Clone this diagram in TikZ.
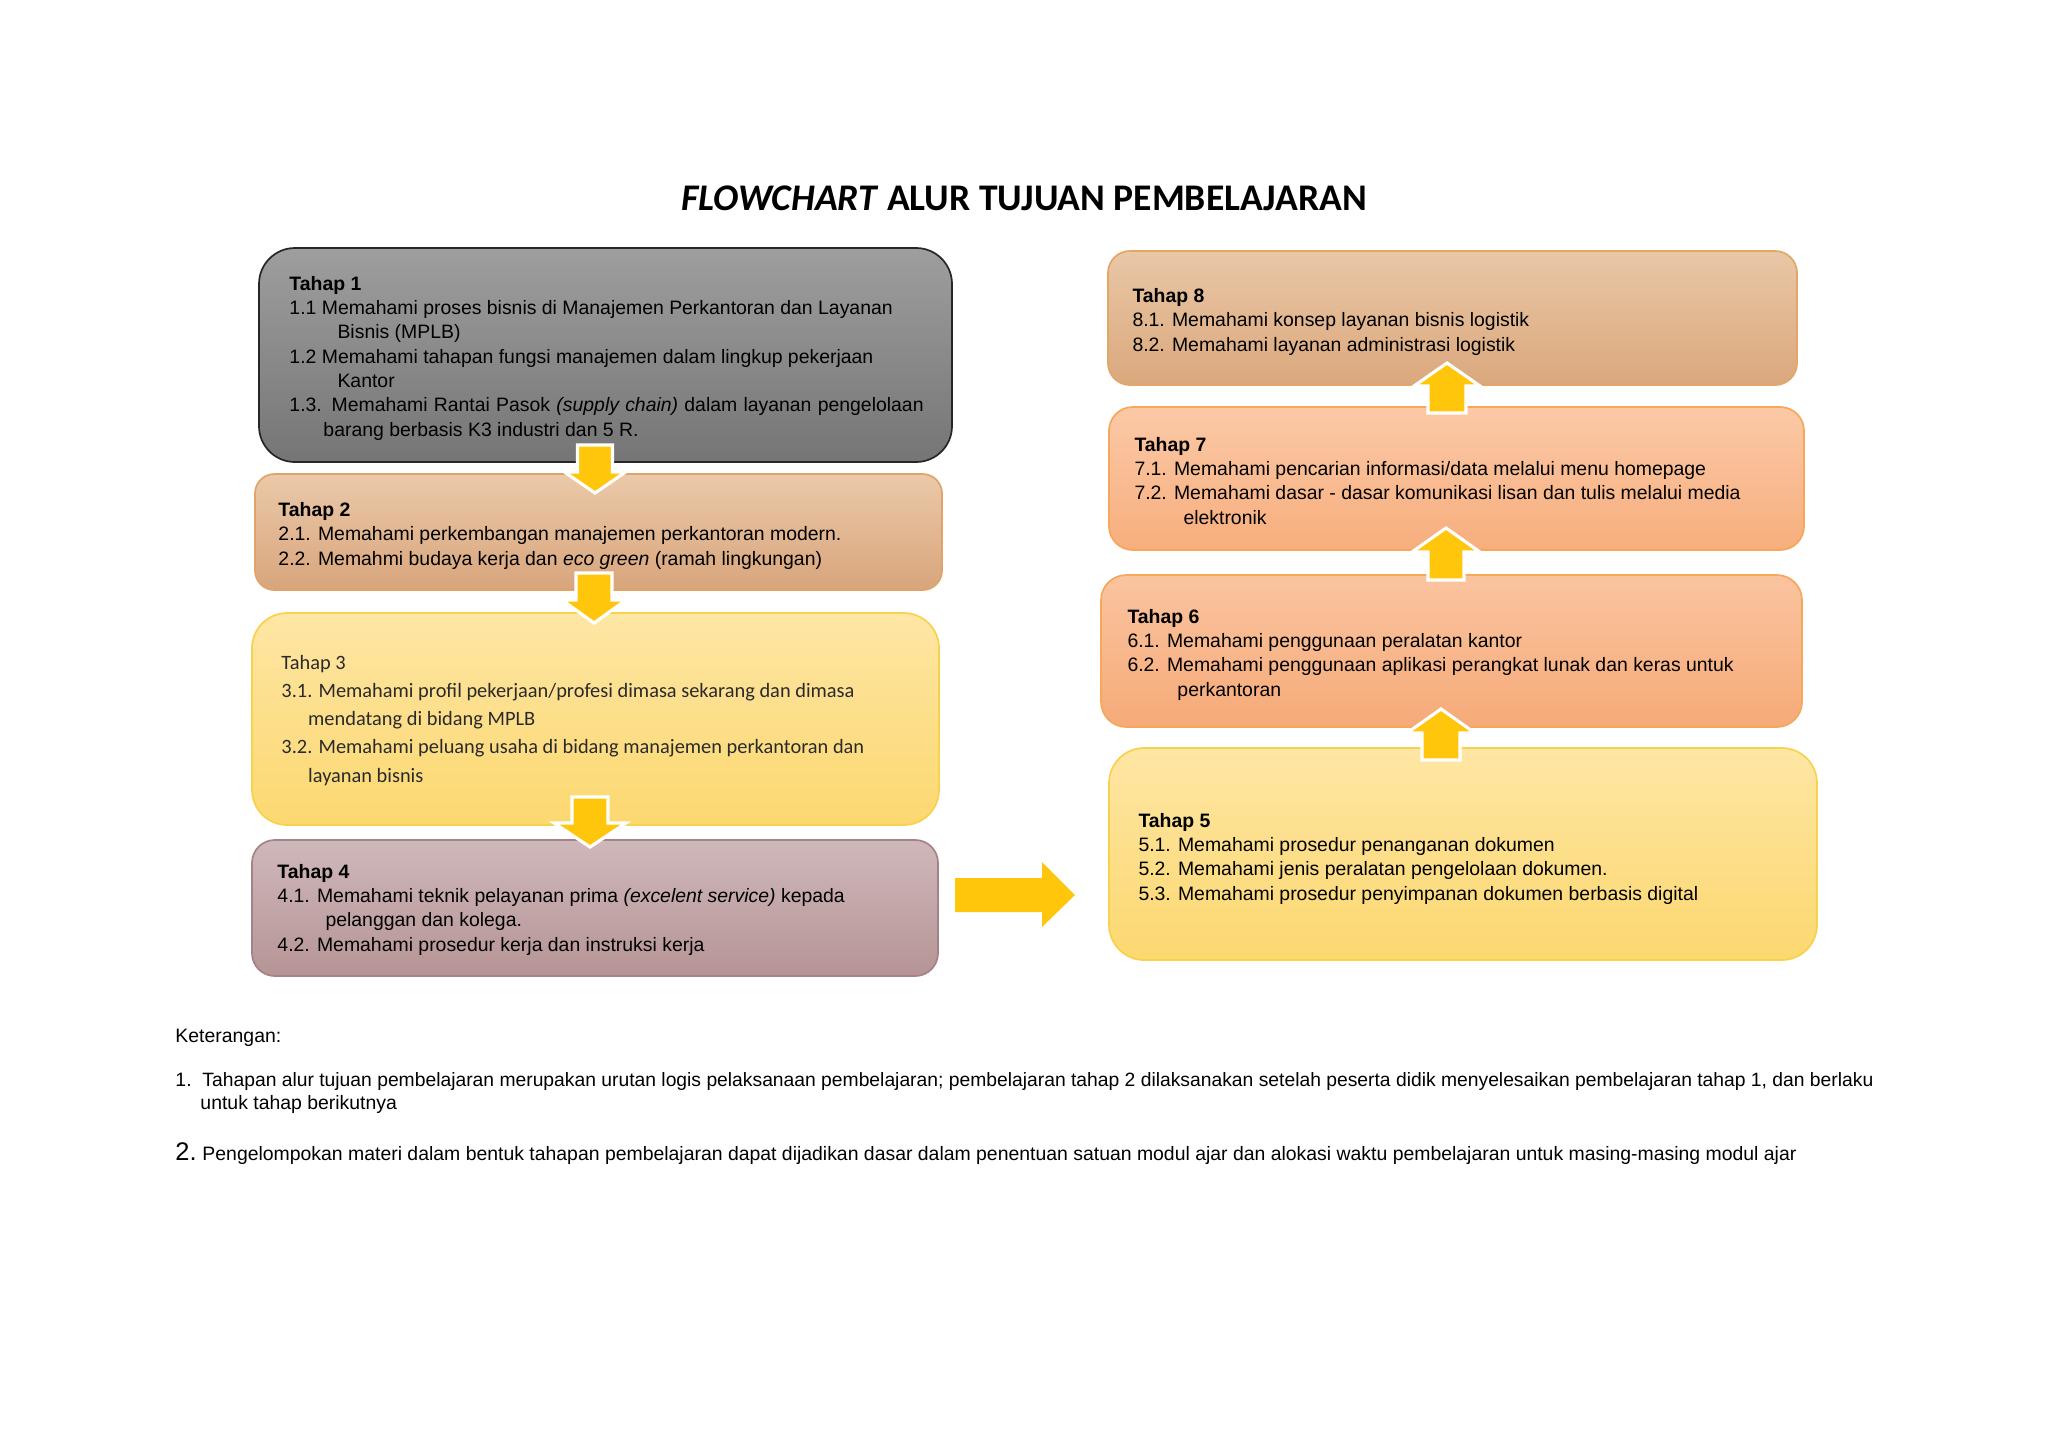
\documentclass[tikz,border=0pt]{standalone}
\usepackage{fontspec}
\setmainfont{Liberation Sans}
\newfontfamily\calib{Carlito}
\usetikzlibrary{fit}
\definecolor{gold}{HTML}{FFC60B}
\definecolor{txtgray}{HTML}{2A2A2A}
\tikzset{
  box/.style={inner sep=0pt, line width=0.7pt},
  txt/.style={anchor=base west, align=left, inner sep=0pt, font=\fontsize{8}{10}\selectfont},
  blk/.style={fill=gold, draw=white, line width=1.3pt, line join=miter},
  note/.style={anchor=base west, inner sep=0pt, font=\fontsize{8}{10}\selectfont},
}
\newcommand\blockarrow[6]{% cx, start, headbase, tip, body half, head half
  \filldraw[blk] (#1-#5,#2) -- (#1+#5,#2) -- (#1+#5,#3) -- (#1+#6,#3) -- (#1,#4) -- (#1-#6,#3) -- (#1-#5,#3) -- cycle;}
\begin{document}
\begin{tikzpicture}[x=0.41205pt,y=-0.41205pt]
\useasboundingbox[fill=white] (0,0) rectangle (2048,1448);

% title
\node[anchor=base, inner sep=0pt, font=\calib\bfseries\fontsize{15.5}{18}\selectfont] (title) at (1024,210) {\textit{FLOWCHART} ALUR TUJUAN PEMBELAJARAN};

% boxes left column
\node[box, fit={(259,248) (952,462)}, rounded corners=14.8pt, top color=black!38, bottom color=black!54, draw=black!85] (t1) {};
\node[box, fit={(255,474) (942,590)}, rounded corners=8pt, top color={rgb,255:red,235;green,201;blue,169}, bottom color={rgb,255:red,216;green,165;blue,124}, draw={rgb,255:red,224;green,164;blue,106}] (t2) {};
\node[box, fit={(252,613) (939,825)}, rounded corners=14.5pt, top color={rgb,255:red,254;green,230;blue,164}, bottom color={rgb,255:red,252;green,216;blue,112}, draw={rgb,255:red,248;green,210;blue,76}] (t3) {};
\node[box, fit={(252,840) (938,976)}, rounded corners=9.4pt, top color={rgb,255:red,207;green,184;blue,186}, bottom color={rgb,255:red,182;green,148;blue,149}, draw={rgb,255:red,164;green,130;blue,135}] (t4) {};

% boxes right column
\node[box, fit={(1108,251) (1797,385)}, rounded corners=9pt, top color={rgb,255:red,233;green,199;blue,166}, bottom color={rgb,255:red,219;green,168;blue,125}, draw={rgb,255:red,227;green,166;blue,104}] (t8) {};
\node[box, fit={(1109,407) (1804,550)}, rounded corners=9.8pt, top color={rgb,255:red,251;green,201;blue,167}, bottom color={rgb,255:red,247;green,174;blue,125}, draw={rgb,255:red,246;green,167;blue,90}] (t7) {};
\node[box, fit={(1101,575) (1802,727)}, rounded corners=10.4pt, top color={rgb,255:red,250;green,196;blue,160}, bottom color={rgb,255:red,246;green,170;blue,120}, draw={rgb,255:red,246;green,167;blue,90}] (t6) {};
\node[box, fit={(1109,748) (1817,960)}, rounded corners=14.5pt, top color={rgb,255:red,254;green,230;blue,164}, bottom color={rgb,255:red,252;green,216;blue,112}, draw={rgb,255:red,248;green,210;blue,76}] (t5) {};

% texts (anchor = baseline of the last line)
\node[txt] (t1txt) at (289,436) {\textbf{Tahap 1}\\
1.1 Memahami proses bisnis di Manajemen Perkantoran dan Layanan\\
\hspace*{19.8pt}Bisnis (MPLB)\\
1.2 Memahami tahapan fungsi manajemen dalam lingkup pekerjaan\\
\hspace*{19.8pt}Kantor\\
\makebox[261.3pt][s]{1.3. Memahami Rantai Pasok \textit{(supply chain)} dalam layanan pengelolaan}\\
\hspace*{14pt}barang berbasis K3 industri dan 5 R.};

\node[txt] (t2txt) at (278,565) {\textbf{Tahap 2}\\
2.1. Memahami perkembangan manajemen perkantoran modern.\\
2.2. Memahmi budaya kerja dan \textit{eco green} (ramah lingkungan)};

\node[txt, text=txtgray, font=\calib\fontsize{8.4}{11.6}\selectfont] (t3txt) at (281,782) {Tahap 3\\
3.1. Memahami profil pekerjaan/profesi dimasa sekarang dan dimasa\\
\hspace*{11pt}mendatang di bidang MPLB\\
3.2. Memahami peluang usaha di bidang manajemen perkantoran dan\\
\hspace*{11pt}layanan bisnis};

\node[txt] (t4txt) at (277,951) {\textbf{Tahap 4}\\
4.1. Memahami teknik pelayanan prima \textit{(excelent service)} kepada\\
\hspace*{19.8pt}pelanggan dan kolega.\\
4.2. Memahami prosedur kerja dan instruksi kerja};

\node[txt] (t8txt) at (1132,351) {\textbf{Tahap 8}\\
8.1. Memahami konsep layanan bisnis logistik\\
8.2. Memahami layanan administrasi logistik};

\node[txt] (t7txt) at (1134,524) {\textbf{Tahap 7}\\
7.1. Memahami pencarian informasi/data melalui menu homepage\\
7.2. Memahami dasar - dasar komunikasi lisan dan tulis melalui media\\
\hspace*{20.2pt}elektronik};

\node[txt] (t6txt) at (1127,696) {\textbf{Tahap 6}\\
6.1. Memahami penggunaan peralatan kantor\\
6.2. Memahami penggunaan aplikasi perangkat lunak dan keras untuk\\
\hspace*{20.6pt}perkantoran};

\node[txt] (t5txt) at (1138,900) {\textbf{Tahap 5}\\
5.1. Memahami prosedur penanganan dokumen\\
5.2. Memahami jenis peralatan pengelolaan dokumen.\\
5.3. Memahami prosedur penyimpanan dokumen berbasis digital};

% block arrows (t1->t2->t3->t4, t5->t6->t7->t8)
\blockarrow{595}{445}{472}{493}{17.5}{30.5}
\blockarrow{594}{573}{600}{623}{18}{32}
\blockarrow{590}{797}{823}{847}{18}{36}
\blockarrow{1441}{760}{733}{709}{19}{34}
\blockarrow{1446}{580}{552}{528}{18}{34}
\blockarrow{1447}{413}{386}{363}{19}{33}
% t4 -> t5
\fill[gold] (955,878) -- (1042,878) -- (1042,862) -- (1075,895) -- (1042,927) -- (1042,912) -- (955,912) -- cycle;

% notes
\node[note] (k0) at (175,1042) {Keterangan:};
\node[note] (k1n) at (175,1086) {1.};
\node[note, font=\fontsize{7.95}{10}\selectfont] (k1a) at (202,1086) {Tahapan alur tujuan pembelajaran merupakan urutan logis pelaksanaan pembelajaran; pembelajaran tahap 2 dilaksanakan setelah peserta didik menyelesaikan pembelajaran tahap 1, dan berlaku};
\node[note] (k1b) at (200,1109) {untuk tahap berikutnya};
\node[note, font=\fontsize{10.5}{13}\selectfont] (k2n) at (175,1160) {2.};
\node[note] (k2a) at (202,1160) {Pengelompokan materi dalam bentuk tahapan pembelajaran dapat dijadikan dasar dalam penentuan satuan modul ajar dan alokasi waktu pembelajaran untuk masing-masing modul ajar};
\end{tikzpicture}
\end{document}
